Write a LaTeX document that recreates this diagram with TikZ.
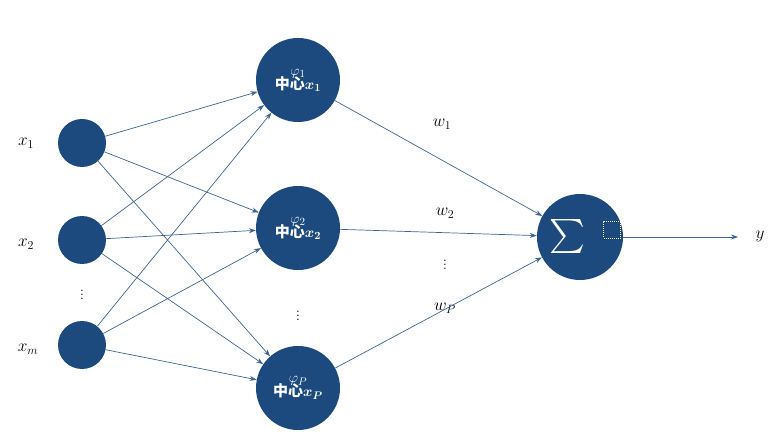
\documentclass[tikz,border=0pt]{standalone}
\usepackage{amsmath,amssymb}
\usepackage{fontspec}
\newfontfamily\cjk{Noto Sans CJK SC}
\usetikzlibrary{arrows.meta}
\definecolor{nb}{HTML}{1D4A7E}
\definecolor{ln}{HTML}{3F6592}
\begin{document}
\begin{tikzpicture}[x=1pt,y=-1pt,
  inp/.style={circle,fill=nb,minimum size=48pt,inner sep=0pt},
  hid/.style={circle,fill=nb,minimum size=84pt,inner sep=0pt,text=white,align=center,font=\fontsize{15}{16}\selectfont},
  con/.style={ln,line width=0.7pt,-{Stealth[length=7pt,width=5pt]}},
  lab/.style={font=\fontsize{17}{18}\selectfont}]
\useasboundingbox (0,0) rectangle (770,443);
\node[inp] (x1) at (82,143) {};
\node[inp] (x2) at (82,240) {};
\node[inp] (xm) at (82,345) {};
\node[lab] (lx1) at (26,143) {$x_1$};
\node[lab] (lx2) at (26,244) {$x_2$};
\node[lab] (lxm) at (28,349) {$x_m$};
\node[lab] (d1) at (82,292) {$\vdots$};
\node[hid] (h1) at (298,80) {$\varphi_1$\\[-2pt]{\cjk\bfseries 中心}$\boldsymbol{x_1}$};
\node[hid] (h2) at (298,228) {$\varphi_2$\\[-2pt]{\cjk\bfseries 中心}$\boldsymbol{x_2}$};
\node[hid] (hp) at (298,388) {$\varphi_P$\\[-2pt]{\cjk\bfseries 中心}$\boldsymbol{x_P}$};
\node[lab] (d2) at (298,313) {$\vdots$};
\node[circle,fill=nb,minimum size=86pt,inner sep=0pt] (s) at (580,237) {};
\node[text=white,font=\fontsize{34}{34}\selectfont] (sig) at (567,237) {$\sum$};
\node[draw=white,densely dotted,line width=1pt,minimum size=17pt,inner sep=0pt] (sq) at (612,230) {};
\coordinate (yo) at (738,237);
\node[lab] (y) at (760,236) {$y$};
\node[lab] (w1) at (442,124) {$w_1$};
\node[lab] (w2) at (445,213) {$w_2$};
\node[lab] (wd) at (445,262) {$\vdots$};
\node[lab] (wp) at (445,308) {$w_P$};
\foreach \a in {x1,x2,xm}{\foreach \b in {h1,h2,hp}{\draw[con] (\a) -- (\b);}}
\foreach \b in {h1,h2,hp}{\draw[con] (\b) -- (s);}
\draw[con] (s) -- (yo);
\end{tikzpicture}
\end{document}
